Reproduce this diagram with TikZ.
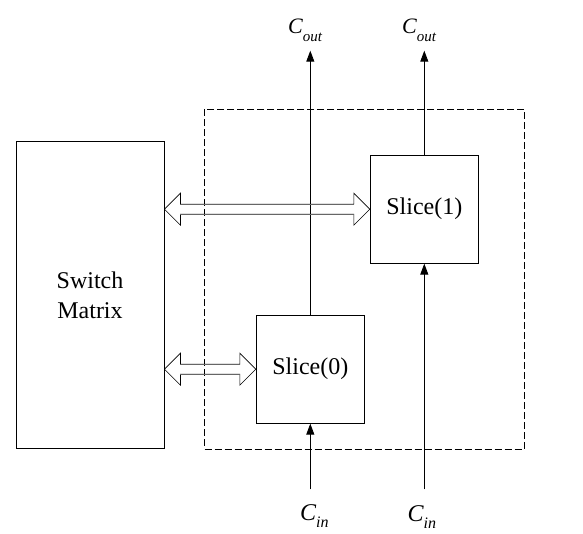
\documentclass[tikz,border=0pt]{standalone}
\usepackage{fontspec}
\setmainfont{Liberation Serif}
\usetikzlibrary{arrows.meta,calc}
\begin{document}
\begin{tikzpicture}[x=1pt,y=-1pt,
  box/.style={draw, line width=0.9pt, inner sep=0pt, font=\fontsize{24}{30}\selectfont, align=center},
  sig/.style={line width=0.9pt, -{Triangle[length=11pt,width=8pt]}},
  dbl/.style={line width=0.6pt, draw=black},
  shaft/.style={line width=1.2pt, draw=black!60},
  grp/.style={line width=0.9pt, dash pattern=on 7pt off 3pt},
  lbl/.style={inner sep=0pt, anchor=base west},
]
\useasboundingbox (0,0) rectangle (583,534);
% dashed group frame
\draw[grp] (204.3,109.3) rectangle (524.5,449);
% blocks
\node[box, minimum width=148pt, minimum height=307pt] (sm) at (90,295.3) {Switch\\Matrix};
\node[box, minimum width=108pt, minimum height=108pt] (s1) at (424.3,209.2) {Slice(1)};
\node[box, minimum width=108pt, minimum height=108pt] (s0) at (310.3,369.2) {Slice(0)};
% labels
\node[lbl] (cout0) at (288,33.3) {\fontsize{22}{22}\selectfont\itshape C\raisebox{-8pt}{\fontsize{15}{15}\selectfont out}};
\node[lbl] (cout1) at (402,33.3) {\fontsize{22}{22}\selectfont\itshape C\raisebox{-8pt}{\fontsize{15}{15}\selectfont out}};
\node[lbl] (cin0) at (300,520.5) {\fontsize{24}{24}\selectfont\itshape C\raisebox{-7pt}{\fontsize{16}{16}\selectfont in}};
\node[lbl] (cin1) at (407.5,521) {\fontsize{24}{24}\selectfont\itshape C\raisebox{-7pt}{\fontsize{16}{16}\selectfont in}};
% connector end points
\coordinate (t0) at (310.3,50.7);
\coordinate (t1) at (424.3,50.7);
\coordinate (b0) at (310.3,489.3);
\coordinate (b1) at (424.3,489.3);
% carry signals
\draw[sig] (s0.north) -- (t0);
\draw[sig] (s1.north) -- (t1);
\draw[sig] (b0) -- (s0.south);
\draw[sig] (b1) -- (s1.south);
% double arrows
\coordinate (a1) at (sm.east |- s1.west);
\coordinate (a0) at (sm.east |- s0.west);
\draw[dbl] (a1) -- ++(16,-16) -- ++(0,11) -- ($(s1.west)+(-16,-5)$) -- ++(0,-11) -- (s1.west)
  -- ++(-16,16) -- ++(0,-11) -- ($(a1)+(16,5)$) -- ++(0,11) -- cycle;
\draw[dbl] (a0) -- ++(16,-16) -- ++(0,11) -- ($(s0.west)+(-16,-5)$) -- ++(0,-11) -- (s0.west)
  -- ++(-16,16) -- ++(0,-11) -- ($(a0)+(16,5)$) -- ++(0,11) -- cycle;
\draw[shaft] ($(a1)+(16,-5)$) -- ($(s1.west)+(-16,-5)$);
\draw[shaft] ($(a1)+(16,5)$) -- ($(s1.west)+(-16,5)$);
\draw[shaft] ($(a0)+(16,-5)$) -- ($(s0.west)+(-16,-5)$);
\draw[shaft] ($(a0)+(16,5)$) -- ($(s0.west)+(-16,5)$);
\end{tikzpicture}
\end{document}
